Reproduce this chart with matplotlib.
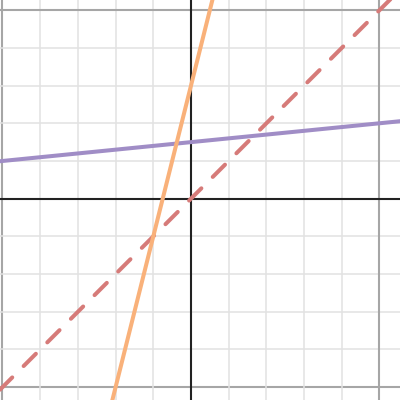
import numpy as np
import matplotlib
matplotlib.use('agg')
import matplotlib.pyplot as plt

# view window (graph units)
x_range = [-5.066, 5.544]
y_range = [-5.34, 5.27]

# lines y = m*x + b
orange_m, orange_b = 4.0, 3.0
purple_m, purple_b = 0.1, 1.5
red_m, red_b = 1.0, 0.0

fig = plt.figure(figsize=(4, 4), dpi=100)
ax = fig.add_axes([0, 0, 1, 1])
ax.set_xlim(x_range)
ax.set_ylim(y_range)
ax.axis('off')

# grid
for v in range(-6, 7):
    if v == 0:
        continue
    c = '#a6a6a6' if v % 5 == 0 else '#e2e2e2'
    lw = 1.5 if v % 5 == 0 else 1.1
    ax.axvline(v, color=c, lw=lw, zorder=0)
    ax.axhline(v, color=c, lw=lw, zorder=0)
ax.axvline(0, color='#222222', lw=1.5, zorder=1)
ax.axhline(0, color='#222222', lw=1.5, zorder=1)

x = np.array(x_range)
ax.plot(x, purple_m * x + purple_b, color='#a08dc6', lw=2.9,
        solid_capstyle='round', zorder=3)
ax.plot(x, red_m * x + red_b, color='#d67b79', lw=2.9, ls=(0, (4.3, 4.0)),
        dash_capstyle='round', zorder=3)
ax.plot(x, orange_m * x + orange_b, color='#f9b17a', lw=2.9,
        solid_capstyle='round', zorder=4)

fig.savefig('out.png')
plt.close()
